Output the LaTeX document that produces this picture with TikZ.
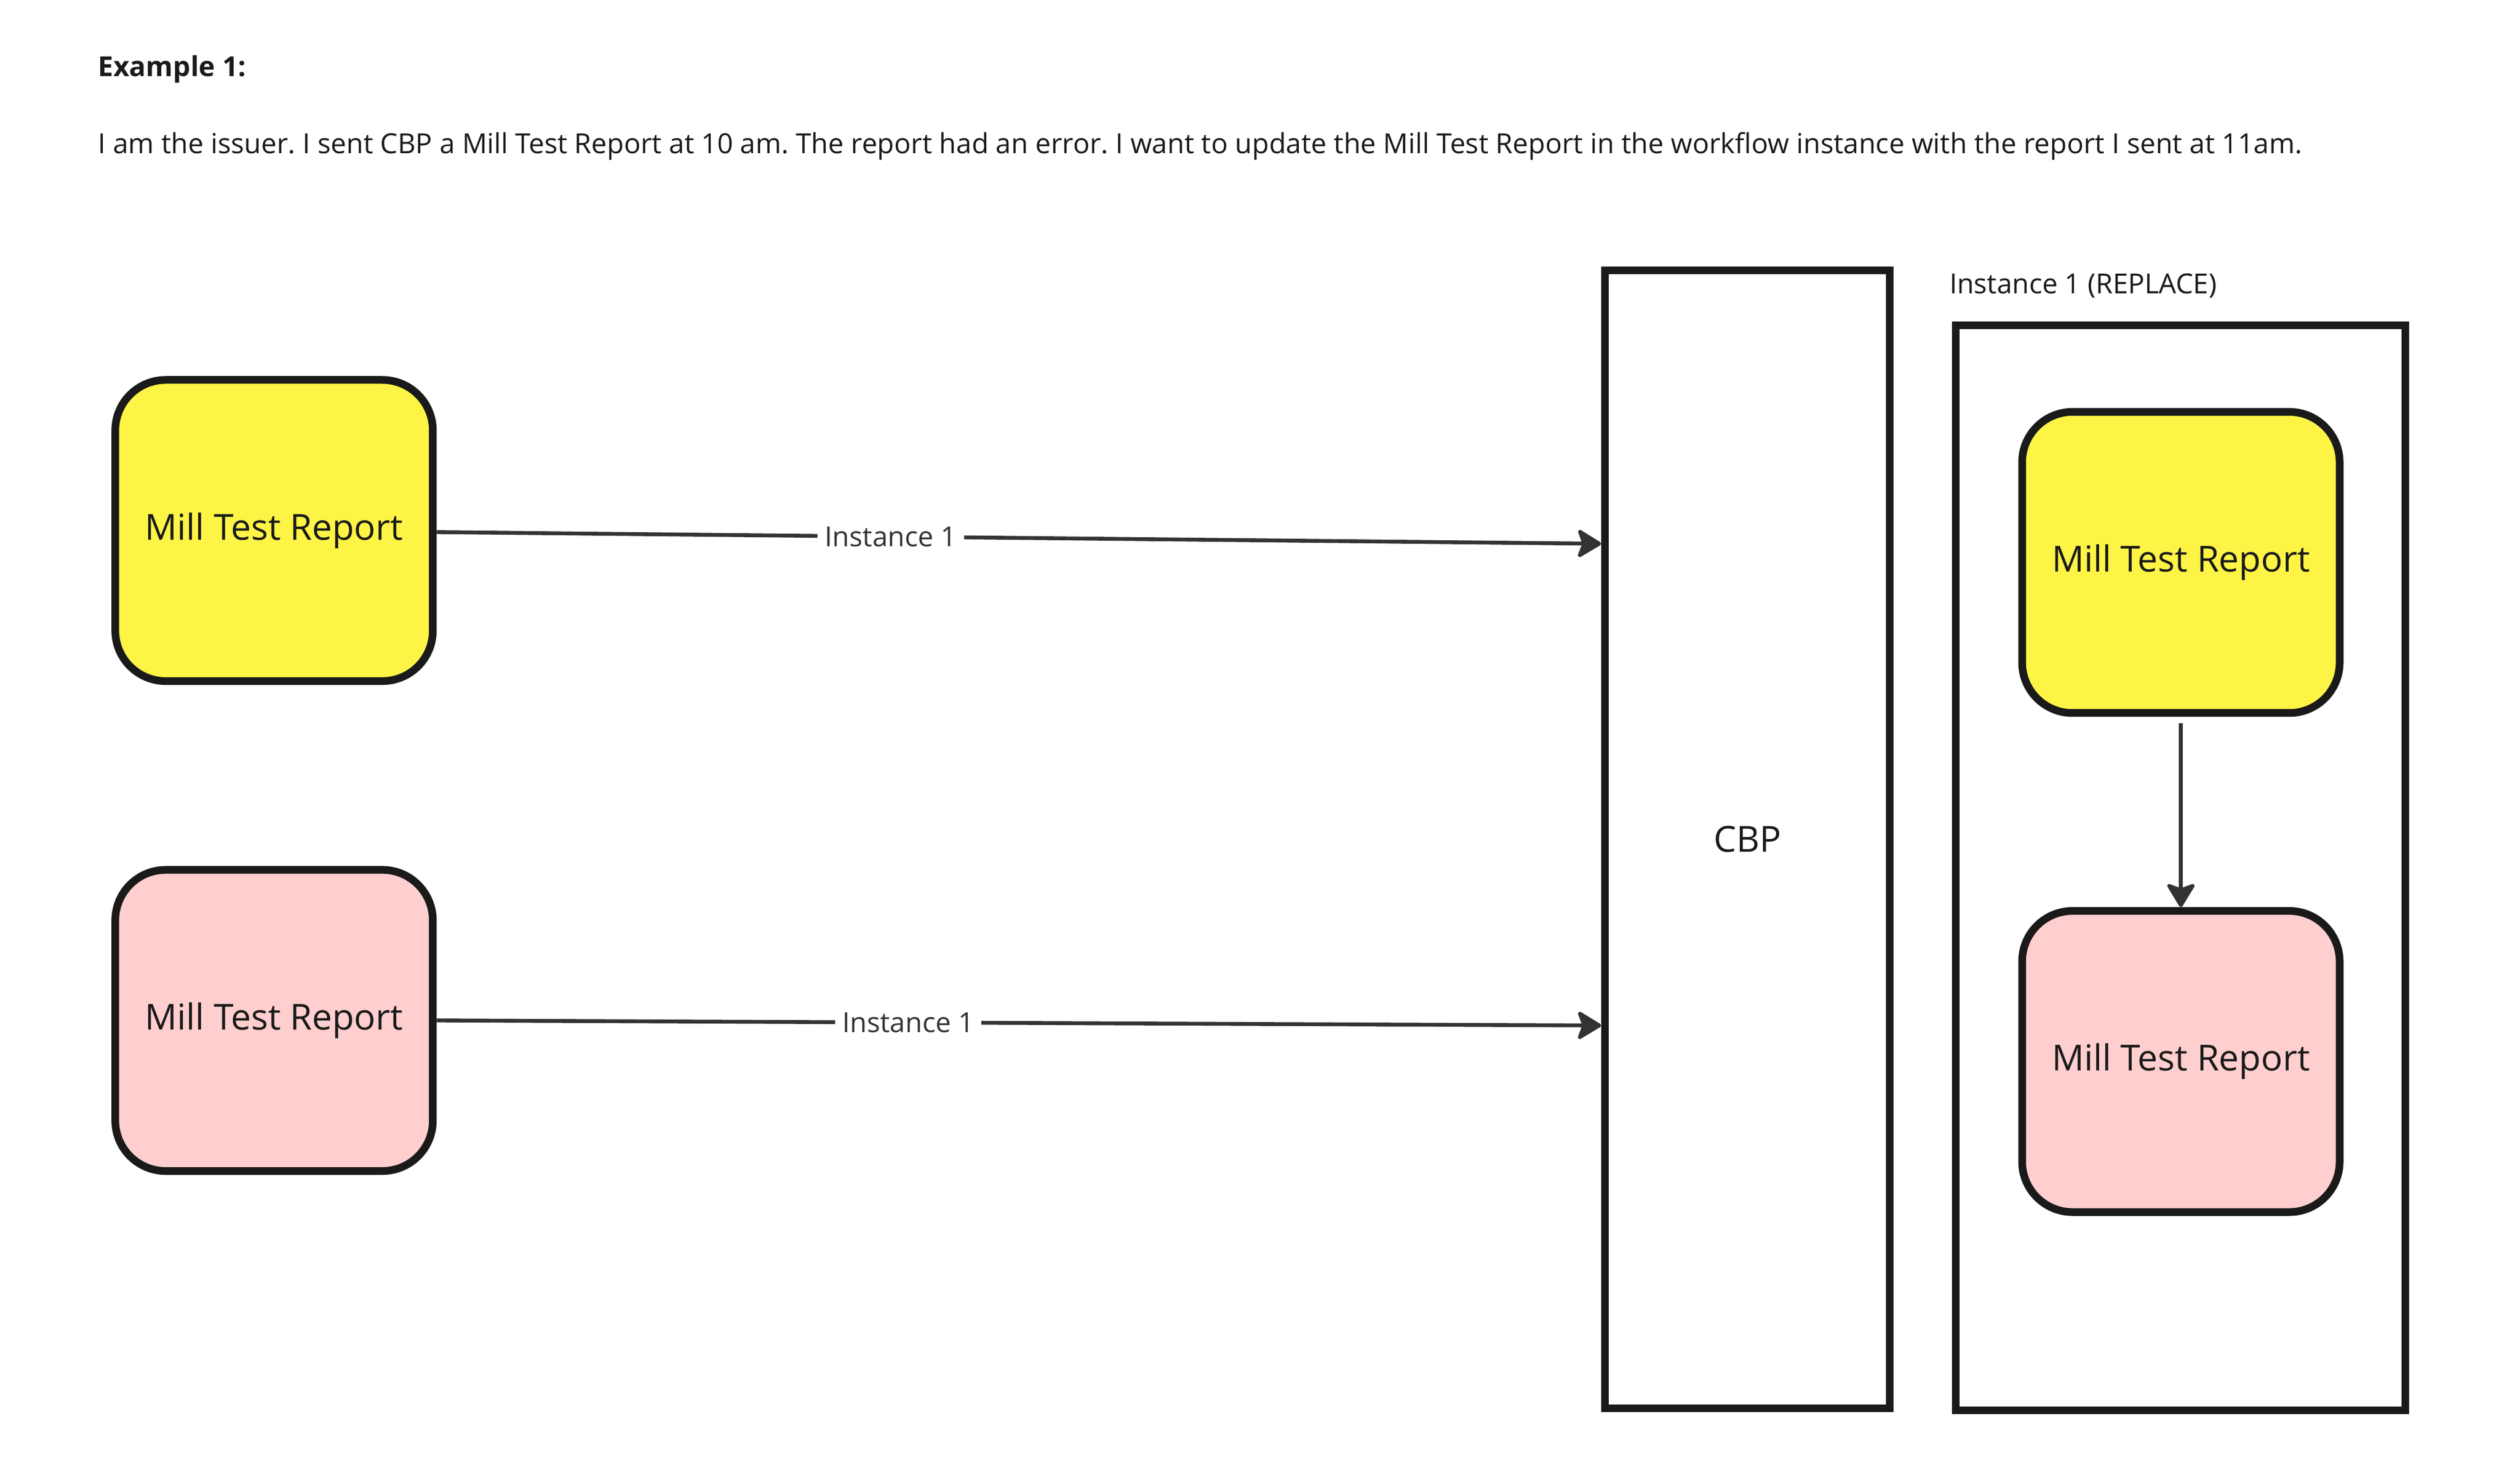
\documentclass[tikz,border=0pt]{standalone}
\usepackage{fontspec}
\setmainfont{Open Sans}
\usepackage{tikz}
\usetikzlibrary{arrows.meta, calc, positioning}
\definecolor{ink}{HTML}{1A1A1A}
\definecolor{wire}{HTML}{333333}
\definecolor{stickyyellow}{HTML}{FEF445}
\definecolor{stickypink}{HTML}{FFCECE}
\frenchspacing
\tikzset {
    report/.style = {
        draw = ink,
        shape = rectangle,
        line width = 0.16cm,
        rounded corners = 1.05cm,
        minimum width = 6.61cm,
        minimum height = 6.27cm,
        text = ink,
        font = {\fontsize{21.2}{26}\selectfont}
    },
    report yellow/.style = {
        report,
        fill = stickyyellow
    },
    report pink/.style = {
        report,
        fill = stickypink
    },
    frame/.style args = {#1/#2}{
        draw = ink,
        shape = rectangle,
        line width = 0.16cm,
        minimum width = #1,
        minimum height = #2,
        text = ink,
        font = {\fontsize{21.2}{26}\selectfont}
    },
    tag/.style = {
        fill = white,
        text = wire,
        inner xsep = 0.15cm,
        font = {\fontsize{16.4}{19}\selectfont}
    },
    flow/.style = {
        -{Stealth[round, length=0.55cm, width=0.66cm, inset=0.12cm]},
        line width = 0.08cm,
        draw = wire
    }
}

\begin{document}
\begin{tikzpicture}
        \useasboundingbox [fill=white] (0, 0) rectangle (52.46, 30.49);

        % Heading : title and sentence
        \node [anchor=base west, text=ink, font={\fontsize{16.3}{20}\selectfont\bfseries}]
                at (1.92, 28.90)                                (title)     {Example 1:};
        \node [anchor=base west, text=ink, font={\fontsize{16.4}{20}\selectfont}]
                at (1.92, 27.29)                                (story)     {I am the issuer. I sent CBP a Mill Test Report at 10 am. The report had an error. I want to update the Mill Test Report in the workflow instance with the report I sent at 11am.};

        % Left column : the two reports that are sent
        \node [report yellow] at (5.705, 19.445)               (report11)  {Mill Test Report};
        \node [report pink, below=3.77cm of report11]          (report21)  {Mill Test Report};

        % Middle : CBP
        \node [frame={5.93cm/23.69cm}] at (36.375, 13.015)    (cbp)       {CBP};
        \coordinate (cbp1) at ([yshift=6.155cm]cbp.west);
        \coordinate (cbp2) at ([yshift=-3.875cm]cbp.west);

        % Right : the instance that is replaced
        \node [frame={9.36cm/22.59cm}] at (45.39, 12.425)     (instance)  {};
        \node [anchor=base west, text=ink, font={\fontsize{16.3}{19}\selectfont}]
                at ([xshift=-0.17cm, yshift=0.58cm]instance.north west) (instname)  {Instance 1 (REPLACE)};
        \node [report yellow] at (45.40, 18.78)                (report12)  {Mill Test Report};
        \node [report pink, below=3.96cm of report12]          (report22)  {Mill Test Report};

        \path [flow]    (report11)  --  node [tag, pos=0.39] {Instance 1}   (cbp1);
        \path [flow]    (report21.east)  --  node [tag, pos=0.405] {Instance 1}   (cbp2);
        \path [flow, shorten <=0.13cm]  (report12)  --  (report22);
    \end{tikzpicture}
\end{document}
